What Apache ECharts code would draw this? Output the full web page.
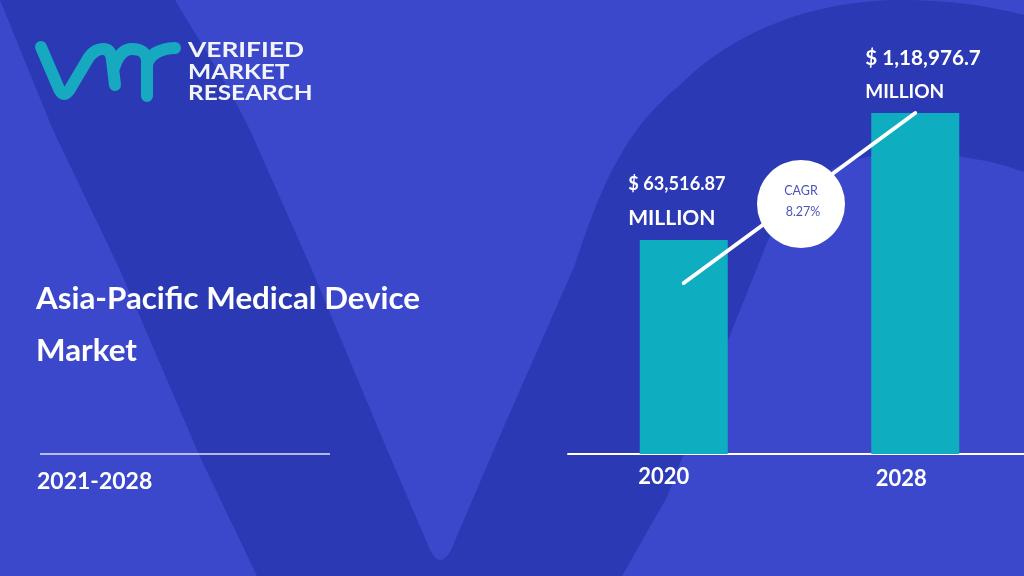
<!DOCTYPE html>
<html><head><meta charset="utf-8">
<style>html,body{margin:0;padding:0;background:#3c48cb}#c{width:1024px;height:576px}</style>
<script src="https://cdn.jsdelivr.net/npm/echarts@6/dist/echarts.min.js"></script>
</head><body><div id="c"></div>
<script>
const categories = ['2020', '2028'];
const marketValues = [63516.87, 118976.7];
const valueTexts = ['$ 63,516.87', '$ 1,18,976.7'];
const unitText = 'MILLION';
const trendValues = [44730, 118976.7];
const titleLines = ['Asia-Pacific Medical Device', 'Market'];
const periodText = '2021-2028';
const cagrLines = ['CAGR', '8.27%'];
const logoLines = ['VERIFIED', 'MARKET', 'RESEARCH'];

const BG = '#3c48cb', DARK = '#2b39b4', TEAL = '#0eaec0', LOGO = '#17a9bf';
const FONT = 'Lato';
const logoScale = [1.315, 1.225, 1.22];
const valueSize = [18.2, 20.7];
const unitSize = [21, 19];

const bgPath = 'M0,0 L175,0 C205,50 228,85 250,130 L312,270 L383,440 L430,550 Q440,570 451,550 L498,440 L574,267 C597,200 618,135 680,85 C735,30 815,0 901,0 C945,0 985,5 1024,15 L1024,172 C985,157 930,150 880,155 C830,160 790,190 767,243 L728,340 L667,497 L622,576 L257,576 L200,457 L120,270 L53,130 Z';
const logoPath = 'M41,47 L59,89 Q64,99 70,89 L89,57 Q95,49 103,49 Q111,49 112,60 L115,85 M114,68 Q120,49 132,49 Q147,49 147,62 L147,96 M147,64 Q152,49 175,48';
echarts.graphic.registerShape('vmrBackground', echarts.graphic.extendPath(bgPath, {}));
echarts.graphic.registerShape('vmrLogo', echarts.graphic.extendPath(logoPath, {}));

const chart = echarts.init(document.getElementById('c'), null, {renderer: 'canvas', width: 1024, height: 576});

const bars = marketValues.map((v, i) => ({
  value: v,
  label: {
    show: true,
    position: i === 0 ? [-11.5, -73] : [-6, -72],
    formatter: '{v|' + valueTexts[i] + '}\n{u|' + unitText + '}',
    align: 'left', verticalAlign: 'top',
    rich: {
      v: {color: '#fff', fontFamily: FONT, fontSize: valueSize[i], fontWeight: 'bold', lineHeight: 34},
      u: {color: '#fff', fontFamily: FONT, fontSize: unitSize[i], fontWeight: 'bold', lineHeight: 34}
    }
  }
}));

const option = {
  animation: false,
  backgroundColor: BG,
  grid: {left: 568, width: 463, top: 113, bottom: 122, outerBoundsMode: 'none'},
  xAxis: {
    type: 'category', data: categories,
    axisLine: {onZero: false, lineStyle: {color: '#fff', width: 2}}, axisTick: {show: false},
    axisLabel: {
      margin: 12, interval: 0,
      formatter: (v, i) => '{l' + i + '|' + v + '}',
      rich: {
        l0: {color: '#fff', fontFamily: FONT, fontSize: 22, fontWeight: 'bold', padding: [0, 40, 0, 0]},
        l1: {color: '#fff', fontFamily: FONT, fontSize: 22, fontWeight: 'bold', padding: [2, 28, 0, 0]}
      }
    }
  },
  yAxis: {type: 'value', min: -29950, max: 118976.7, startValue: -29950, show: false, splitLine: {show: false}},
  series: [
    {type: 'bar', data: bars, barWidth: 88, itemStyle: {color: TEAL}, z: 2},
    {type: 'line', data: trendValues, symbol: 'none', clip: false, z: 3,
     lineStyle: {color: '#fff', width: 4, cap: 'round'}}
  ],
  graphic: [
    {type: 'vmrBackground', z: -10, silent: true, style: {fill: DARK}},
    {type: 'vmrLogo', z: 5, style: {fill: null, stroke: LOGO, lineWidth: 12, lineCap: 'round', lineJoin: 'round'}},
    ...logoLines.map((t, i) => ({type: 'text', z: 5, x: 188, y: 41 + i * 21.5, scaleX: logoScale[i],
      style: {text: t, fill: '#f2f4fb', font: 'bold 20px ' + FONT}})),
    ...titleLines.map((t, i) => ({type: 'text', z: 5, x: 36, y: 283.5 + i * 52,
      style: {text: t, fill: '#fff', font: 'bold 31.3px ' + FONT}})),
    {type: 'line', z: 5, shape: {x1: 40, y1: 454, x2: 330, y2: 454}, style: {stroke: '#dfe3f7', lineWidth: 1.5}},
    {type: 'text', z: 5, x: 37, y: 470, style: {text: periodText, fill: '#fff', font: 'bold 23px ' + FONT}},
    {type: 'circle', z: 10, shape: {cx: 801, cy: 204, r: 44}, style: {fill: '#fff'}},
    {type: 'text', z: 11, x: 801, y: 191, style: {text: cagrLines[0], fill: '#4a54b8', font: '12.5px ' + FONT, align: 'center', verticalAlign: 'middle'}},
    {type: 'text', z: 11, x: 803, y: 212, style: {text: cagrLines[1], fill: '#4a54b8', font: '12.5px ' + FONT, align: 'center', verticalAlign: 'middle'}}
  ]
};
chart.setOption(option);
</script></body></html>
